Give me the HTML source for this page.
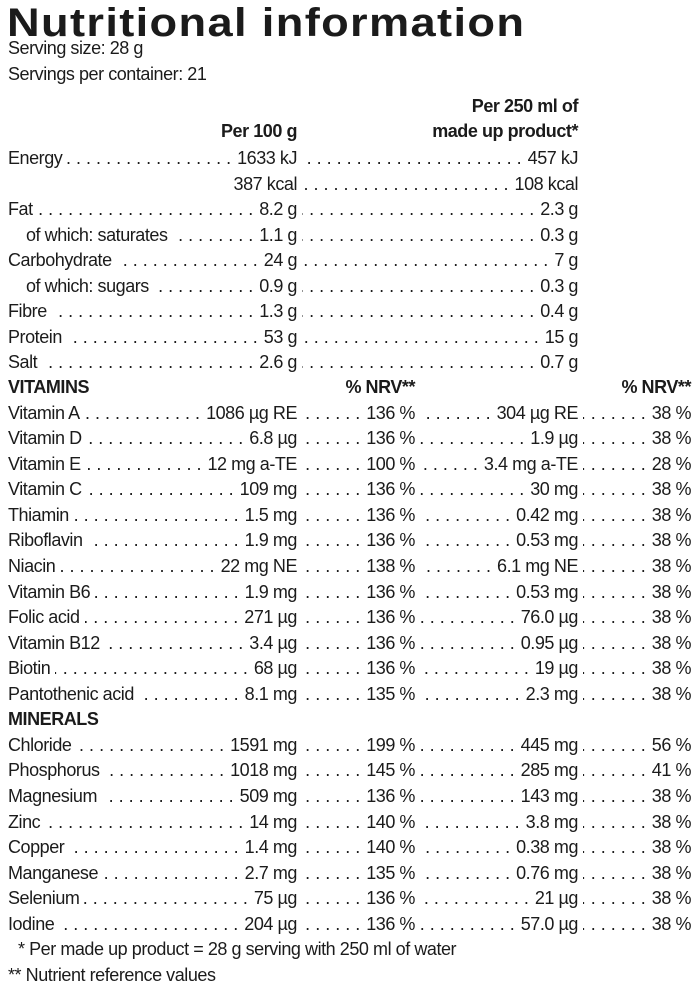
<!DOCTYPE html>
<html><head><meta charset="utf-8"><style>
body{margin:0;width:700px;height:993px;background:#fff;position:relative;overflow:hidden;color:#1b1b1b;font-family:"Liberation Sans Narrow","Liberation Sans",sans-serif;font-size:18px;letter-spacing:-0.45px}
.t{position:absolute;left:7px;top:1px;font-family:"Liberation Sans",sans-serif;font-weight:bold;font-size:40px;letter-spacing:1.2px;white-space:nowrap;transform-origin:0 0;transform:scaleX(1.13)}
.p{position:absolute;white-space:nowrap;line-height:26px}
.r{position:absolute;left:0;width:700px;height:26px;line-height:26px}
.r>div{position:absolute;top:0;display:flex;white-space:nowrap}
.a{left:8px;width:289px}.b{left:297px;width:118px}.c{left:297px;width:281px}.c2{left:415px;width:163px}.d{left:578px;width:113px}
i{flex:1;overflow:hidden;font-style:normal;margin:0 6px 0 5px;direction:rtl;letter-spacing:0}
i::before{content:". . . . . . . . . . . . . . . . . . . . . . . . . . . . . . . . . . . . . . . . . . . . . . . . . . . . . . . . . . . . ."}
u{text-decoration:none;flex:1}
.in{padding-left:18px}
.h{font-weight:bold}
.rt{text-align:right}
</style></head><body>
<div class="t">Nutritional information</div>
<div class="p" style="left:8px;top:35px">Serving size: 28 g</div>
<div class="p" style="left:8px;top:61px">Servings per container: 21</div>
<div class="p h rt" style="right:122px;top:93px">Per 250 ml of</div>
<div class="p h rt" style="right:122px;top:118px">made up product*</div>
<div class="p h rt" style="right:403px;top:118px">Per 100 g</div>

<div class="r" style="top:145px"><div class="a"><span>Energy</span><i></i><span>1633 kJ</span></div><div class="c"><i></i><span>457 kJ</span></div></div>
<div class="r" style="top:171px"><div class="a"><u></u><span>387 kcal</span></div><div class="c"><i></i><span>108 kcal</span></div></div>
<div class="r" style="top:196px"><div class="a"><span>Fat</span><i></i><span>8.2 g</span></div><div class="c"><i></i><span>2.3 g</span></div></div>
<div class="r" style="top:222px"><div class="a"><span class="in">of which: saturates</span><i></i><span>1.1 g</span></div><div class="c"><i></i><span>0.3 g</span></div></div>
<div class="r" style="top:247px"><div class="a"><span>Carbohydrate</span><i></i><span>24 g</span></div><div class="c"><i></i><span>7 g</span></div></div>
<div class="r" style="top:273px"><div class="a"><span class="in">of which: sugars</span><i></i><span>0.9 g</span></div><div class="c"><i></i><span>0.3 g</span></div></div>
<div class="r" style="top:298px"><div class="a"><span>Fibre</span><i></i><span>1.3 g</span></div><div class="c"><i></i><span>0.4 g</span></div></div>
<div class="r" style="top:324px"><div class="a"><span>Protein</span><i></i><span>53 g</span></div><div class="c"><i></i><span>15 g</span></div></div>
<div class="r" style="top:349px"><div class="a"><span>Salt</span><i></i><span>2.6 g</span></div><div class="c"><i></i><span>0.7 g</span></div></div>

<div class="r h" style="top:374px"><div class="a"><span>VITAMINS</span></div><div class="b"><u></u><span>% NRV**</span></div><div class="d"><u></u><span>% NRV**</span></div></div>
<div class="r" style="top:400px"><div class="a"><span>Vitamin A</span><i></i><span>1086 µg RE</span></div><div class="b"><i></i><span>136 %</span></div><div class="c2"><i></i><span>304 µg RE</span></div><div class="d"><i></i><span>38 %</span></div></div>
<div class="r" style="top:425px"><div class="a"><span>Vitamin D</span><i></i><span>6.8 µg</span></div><div class="b"><i></i><span>136 %</span></div><div class="c2"><i></i><span>1.9 µg</span></div><div class="d"><i></i><span>38 %</span></div></div>
<div class="r" style="top:451px"><div class="a"><span>Vitamin E</span><i></i><span>12 mg a-TE</span></div><div class="b"><i></i><span>100 %</span></div><div class="c2"><i></i><span>3.4 mg a-TE</span></div><div class="d"><i></i><span>28 %</span></div></div>
<div class="r" style="top:476px"><div class="a"><span>Vitamin C</span><i></i><span>109 mg</span></div><div class="b"><i></i><span>136 %</span></div><div class="c2"><i></i><span>30 mg</span></div><div class="d"><i></i><span>38 %</span></div></div>
<div class="r" style="top:502px"><div class="a"><span>Thiamin</span><i></i><span>1.5 mg</span></div><div class="b"><i></i><span>136 %</span></div><div class="c2"><i></i><span>0.42 mg</span></div><div class="d"><i></i><span>38 %</span></div></div>
<div class="r" style="top:527px"><div class="a"><span>Riboflavin</span><i></i><span>1.9 mg</span></div><div class="b"><i></i><span>136 %</span></div><div class="c2"><i></i><span>0.53 mg</span></div><div class="d"><i></i><span>38 %</span></div></div>
<div class="r" style="top:553px"><div class="a"><span>Niacin</span><i></i><span>22 mg NE</span></div><div class="b"><i></i><span>138 %</span></div><div class="c2"><i></i><span>6.1 mg NE</span></div><div class="d"><i></i><span>38 %</span></div></div>
<div class="r" style="top:579px"><div class="a"><span>Vitamin B6</span><i></i><span>1.9 mg</span></div><div class="b"><i></i><span>136 %</span></div><div class="c2"><i></i><span>0.53 mg</span></div><div class="d"><i></i><span>38 %</span></div></div>
<div class="r" style="top:604px"><div class="a"><span>Folic acid</span><i></i><span>271 µg</span></div><div class="b"><i></i><span>136 %</span></div><div class="c2"><i></i><span>76.0 µg</span></div><div class="d"><i></i><span>38 %</span></div></div>
<div class="r" style="top:630px"><div class="a"><span>Vitamin B12</span><i></i><span>3.4 µg</span></div><div class="b"><i></i><span>136 %</span></div><div class="c2"><i></i><span>0.95 µg</span></div><div class="d"><i></i><span>38 %</span></div></div>
<div class="r" style="top:655px"><div class="a"><span>Biotin</span><i></i><span>68 µg</span></div><div class="b"><i></i><span>136 %</span></div><div class="c2"><i></i><span>19 µg</span></div><div class="d"><i></i><span>38 %</span></div></div>
<div class="r" style="top:681px"><div class="a"><span>Pantothenic acid</span><i></i><span>8.1 mg</span></div><div class="b"><i></i><span>135 %</span></div><div class="c2"><i></i><span>2.3 mg</span></div><div class="d"><i></i><span>38 %</span></div></div>

<div class="r h" style="top:706px"><div class="a"><span>MINERALS</span></div></div>
<div class="r" style="top:732px"><div class="a"><span>Chloride</span><i></i><span>1591 mg</span></div><div class="b"><i></i><span>199 %</span></div><div class="c2"><i></i><span>445 mg</span></div><div class="d"><i></i><span>56 %</span></div></div>
<div class="r" style="top:757px"><div class="a"><span>Phosphorus</span><i></i><span>1018 mg</span></div><div class="b"><i></i><span>145 %</span></div><div class="c2"><i></i><span>285 mg</span></div><div class="d"><i></i><span>41 %</span></div></div>
<div class="r" style="top:783px"><div class="a"><span>Magnesium</span><i></i><span>509 mg</span></div><div class="b"><i></i><span>136 %</span></div><div class="c2"><i></i><span>143 mg</span></div><div class="d"><i></i><span>38 %</span></div></div>
<div class="r" style="top:809px"><div class="a"><span>Zinc</span><i></i><span>14 mg</span></div><div class="b"><i></i><span>140 %</span></div><div class="c2"><i></i><span>3.8 mg</span></div><div class="d"><i></i><span>38 %</span></div></div>
<div class="r" style="top:834px"><div class="a"><span>Copper</span><i></i><span>1.4 mg</span></div><div class="b"><i></i><span>140 %</span></div><div class="c2"><i></i><span>0.38 mg</span></div><div class="d"><i></i><span>38 %</span></div></div>
<div class="r" style="top:860px"><div class="a"><span>Manganese</span><i></i><span>2.7 mg</span></div><div class="b"><i></i><span>135 %</span></div><div class="c2"><i></i><span>0.76 mg</span></div><div class="d"><i></i><span>38 %</span></div></div>
<div class="r" style="top:885px"><div class="a"><span>Selenium</span><i></i><span>75 µg</span></div><div class="b"><i></i><span>136 %</span></div><div class="c2"><i></i><span>21 µg</span></div><div class="d"><i></i><span>38 %</span></div></div>
<div class="r" style="top:911px"><div class="a"><span>Iodine</span><i></i><span>204 µg</span></div><div class="b"><i></i><span>136 %</span></div><div class="c2"><i></i><span>57.0 µg</span></div><div class="d"><i></i><span>38 %</span></div></div>

<div class="p" style="left:18px;top:936px">* Per made up product = 28 g serving with 250 ml of water</div>
<div class="p" style="left:8px;top:962px">** Nutrient reference values</div>
</body></html>
